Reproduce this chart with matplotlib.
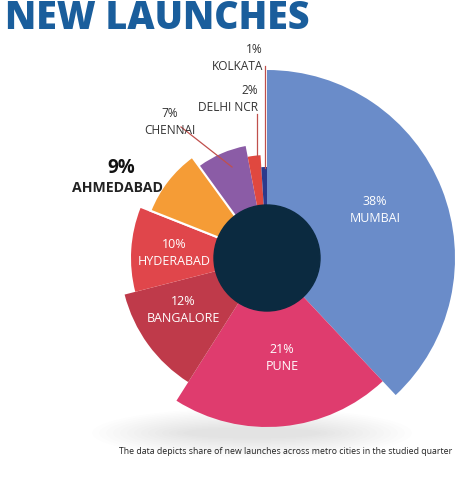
import numpy as np
import matplotlib
matplotlib.use("Agg")
import matplotlib.pyplot as plt
from matplotlib.patches import Wedge, Circle, Ellipse

# data, clockwise from 12 o'clock
cities = ["MUMBAI", "PUNE", "BANGALORE", "HYDERABAD", "AHMEDABAD", "CHENNAI", "DELHI NCR", "KOLKATA"]
shares = [38, 21, 12, 10, 9, 7, 2, 1]
radii = [188, 169, 147, 136, 122, 114, 103, 91]
colors = ["#6a8cc9", "#df3c6e", "#bf3a4a", "#e0464b", "#f59c36", "#8b5ca6", "#e0483f", "#2c3a8c"]

W, H = 467, 479
fig = plt.figure(figsize=(W / 100, H / 100), dpi=100)
ax = fig.add_axes([0, 0, 1, 1])
ax.set_xlim(0, W)
ax.set_ylim(0, H)
ax.axis("off")

cx, cy = 267, H - 258

# faint shadow under the chart
for k in range(14):
    ax.add_patch(Ellipse((cx - 15, cy - 175), 320 - k * 14, 50 - k * 3,
                         color="#000000", alpha=0.009, lw=0))

cum = np.concatenate([[0], np.cumsum(shares)])
for i in range(len(shares)):
    t1 = 90 - cum[i + 1] * 3.6
    t2 = 90 - cum[i] * 3.6
    mid = np.deg2rad((t1 + t2) / 2)
    ox, oy = 0, 0
    if cities[i] == "AHMEDABAD":
        ox, oy = 4 * np.cos(mid), 4 * np.sin(mid)
    ax.add_patch(Wedge((cx + ox, cy + oy), radii[i], t1, t2, facecolor=colors[i],
                       edgecolor="white" if cities[i] == "AHMEDABAD" else "none", lw=1.5))

ax.add_patch(Circle((cx, cy), 53, color="#0b2a40", zorder=3))

# labels inside slices
inside = {"MUMBAI": (375, 210), "PUNE": (282, 358), "BANGALORE": (183, 310), "HYDERABAD": (174, 253)}
for i, c in enumerate(cities):
    if c in inside:
        x, y = inside[c]
        ax.text(x, H - y, f"{shares[i]}%\n{c}", color="white", fontsize=9, ha="center",
                va="center", family="Open Sans", linespacing=1.45)

# outside labels
lab = dict(fontsize=8.6, family="Open Sans", color="#333333", linespacing=1.35)
ax.text(263, H - 58, f"{shares[7]}%\n{cities[7]}", ha="right", va="center", **lab)
ax.text(258, H - 99, f"{shares[6]}%\n{cities[6]}", ha="right", va="center", **lab)
ax.text(170, H - 122, f"{shares[5]}%\n{cities[5]}", ha="center", va="center", **lab)
ax.text(121, H - 168, f"{shares[4]}%", ha="center", va="center", fontsize=13.5, fontweight="bold",
        family="Open Sans", color="#111111")
ax.text(118, H - 188, cities[4], ha="center", va="center", fontsize=10.2, fontweight="bold",
        family="Open Sans", color="#222222")

# leader lines
ax.plot([265, 265], [H - 66, H - 168], color="#c0504d", lw=0.9)
ax.plot([257, 257], [H - 114, H - 156], color="#c0504d", lw=0.9)
ax.plot([181, 232], [H - 127, H - 167], color="#c0504d", lw=0.9)

fig.text(5 / W, 1 - 29 / H, "NEW LAUNCHES", fontsize=27, fontweight="heavy", family="Open Sans",
         color="#1a5e9c", va="baseline", ha="left")

ax.text(286, H - 452, "The data depicts share of new launches across metro cities in the studied quarter",
        ha="center", va="center", fontsize=6.3, family="Open Sans", color="#222222")

fig.savefig("out.png", dpi=100)
